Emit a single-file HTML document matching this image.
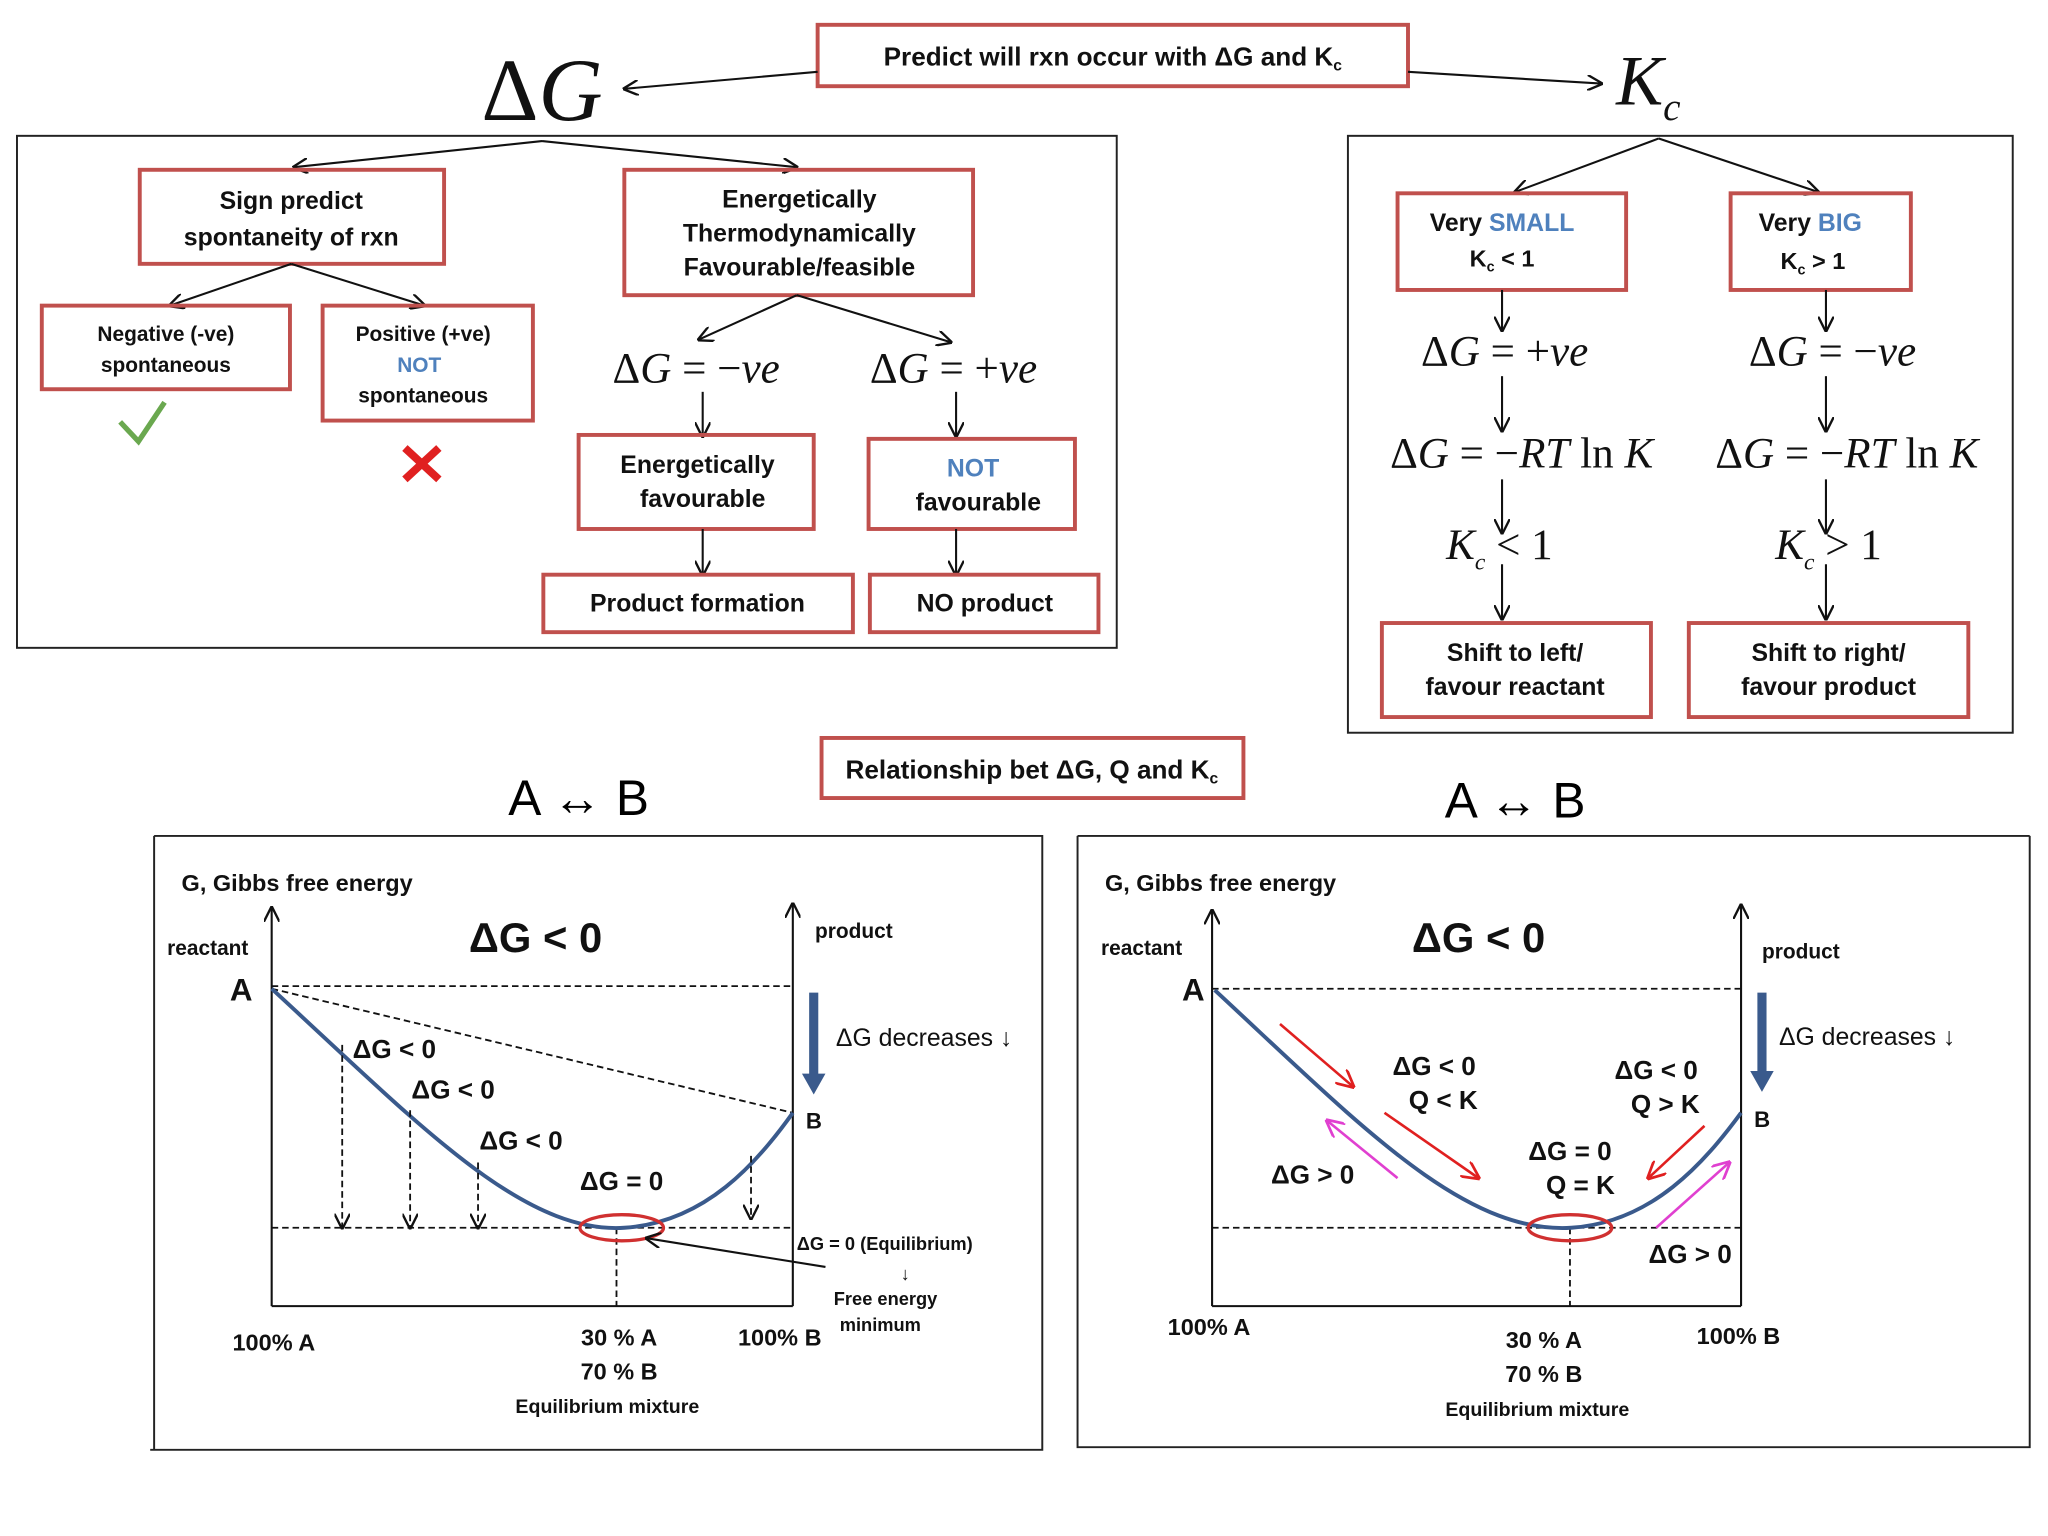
<!DOCTYPE html>
<html><head><meta charset="utf-8"><style>
html,body{margin:0;padding:0;background:#fff;}
svg{display:block}
.b{font-family:"Liberation Sans",sans-serif;font-weight:bold;fill:#111}
.s{font-family:"Liberation Serif",serif;fill:#111}
.rb{fill:none;stroke:#c0504d;stroke-width:3}
.ln{stroke:#111;stroke-width:1.6;fill:none}
.ds{stroke:#111;stroke-width:1.4;fill:none;stroke-dasharray:5,3}
</style></head><body>
<svg width="2048" height="1536" viewBox="0 0 1568 1176" xmlns="http://www.w3.org/2000/svg">
<defs>
<marker id="a" viewBox="0 0 10 10" refX="9" refY="5" markerWidth="12" markerHeight="12" orient="auto" markerUnits="userSpaceOnUse"><path d="M0,0 L10,5 L0,10" fill="none" stroke="#111" stroke-width="1.5"/></marker>
<marker id="ar" viewBox="0 0 10 10" refX="9" refY="5" markerWidth="14" markerHeight="14" orient="auto" markerUnits="userSpaceOnUse"><path d="M0,0 L10,5 L0,10" fill="none" stroke="#e02020" stroke-width="1.5"/></marker>
<marker id="ap" viewBox="0 0 10 10" refX="9" refY="5" markerWidth="14" markerHeight="14" orient="auto" markerUnits="userSpaceOnUse"><path d="M0,0 L10,5 L0,10" fill="none" stroke="#e040d0" stroke-width="1.5"/></marker>
</defs>
<rect width="1568" height="1176" fill="#fff"/>
<rect class="rb" x="626" y="19" width="452" height="47"/>
<text class="b" x="852" y="50" font-size="20" text-anchor="middle">Predict will rxn occur with ΔG and K<tspan font-size="12" dy="4">c</tspan></text>
<text class="s" x="415" y="92" font-size="68" text-anchor="middle">Δ<tspan font-style="italic">G</tspan></text>
<line class="ln" x1="626" y1="55" x2="478" y2="68" marker-end="url(#a)"/>
<text class="s" x="1262" y="80" font-size="54" font-style="italic" text-anchor="middle">K<tspan font-size="30" dy="12">c</tspan></text>
<line class="ln" x1="1078" y1="55" x2="1226" y2="64" marker-end="url(#a)"/>
<rect x="13" y="104" width="842" height="392" fill="none" stroke="#222" stroke-width="1.5"/>
<line class="ln" x1="415" y1="108" x2="225" y2="128" marker-end="url(#a)"/>
<line class="ln" x1="415" y1="108" x2="610" y2="128" marker-end="url(#a)"/>
<rect class="rb" x="107" y="130" width="233" height="72"/>
<text class="b" x="223" y="160" font-size="19" text-anchor="middle">Sign predict</text>
<text class="b" x="223" y="188" font-size="19" text-anchor="middle">spontaneity of rxn</text>
<line class="ln" x1="223" y1="202" x2="130" y2="234" marker-end="url(#a)"/>
<line class="ln" x1="223" y1="202" x2="325" y2="234" marker-end="url(#a)"/>
<rect class="rb" x="32" y="234" width="190" height="64"/>
<text class="b" x="127" y="261" font-size="16" text-anchor="middle">Negative (-ve)</text>
<text class="b" x="127" y="285" font-size="16" text-anchor="middle">spontaneous</text>
<rect class="rb" x="247" y="234" width="161" height="88"/>
<text class="b" x="324" y="261" font-size="16" text-anchor="middle">Positive (+ve)</text>
<text class="b" x="321" y="285" font-size="16" text-anchor="middle" style="fill:#4f81bd">NOT</text>
<text class="b" x="324" y="308" font-size="16" text-anchor="middle">spontaneous</text>
<path d="M92,323 L106,338 L126,308" fill="none" stroke="#6aa84f" stroke-width="4"/>
<path d="M310,343 L336,367 M336,343 L310,367" stroke="#e02020" stroke-width="6"/>
<rect class="rb" x="478" y="130" width="267" height="96"/>
<text class="b" x="612" y="159" font-size="19" text-anchor="middle">Energetically</text>
<text class="b" x="612" y="185" font-size="19" text-anchor="middle">Thermodynamically</text>
<text class="b" x="612" y="211" font-size="19" text-anchor="middle">Favourable/feasible</text>
<line class="ln" x1="610" y1="226" x2="535" y2="260" marker-end="url(#a)"/>
<line class="ln" x1="610" y1="226" x2="728" y2="262" marker-end="url(#a)"/>
<text class="s" x="533" y="293" font-size="33" text-anchor="middle">Δ<tspan font-style="italic">G</tspan> = −<tspan font-style="italic">ve</tspan></text>
<text class="s" x="730" y="293" font-size="33" text-anchor="middle">Δ<tspan font-style="italic">G</tspan> = +<tspan font-style="italic">ve</tspan></text>
<line class="ln" x1="538" y1="300" x2="538" y2="334" marker-end="url(#a)"/>
<line class="ln" x1="732" y1="300" x2="732" y2="334" marker-end="url(#a)"/>
<rect class="rb" x="443" y="333" width="180" height="72"/>
<text class="b" x="534" y="362" font-size="19" text-anchor="middle">Energetically</text>
<text class="b" x="538" y="388" font-size="19" text-anchor="middle">favourable</text>
<rect class="rb" x="665" y="336" width="158" height="69"/>
<text class="b" x="745" y="365" font-size="19" text-anchor="middle" style="fill:#4f81bd">NOT</text>
<text class="b" x="749" y="391" font-size="19" text-anchor="middle">favourable</text>
<line class="ln" x1="538" y1="405" x2="538" y2="440" marker-end="url(#a)"/>
<line class="ln" x1="732" y1="405" x2="732" y2="440" marker-end="url(#a)"/>
<rect class="rb" x="416" y="440" width="237" height="44"/>
<text class="b" x="534" y="468" font-size="19" text-anchor="middle">Product formation</text>
<rect class="rb" x="666" y="440" width="175" height="44"/>
<text class="b" x="754" y="468" font-size="19" text-anchor="middle">NO product</text>
<rect x="1032" y="104" width="509" height="457" fill="none" stroke="#222" stroke-width="1.5"/>
<line class="ln" x1="1270" y1="106" x2="1160" y2="147" marker-end="url(#a)"/>
<line class="ln" x1="1270" y1="106" x2="1392" y2="147" marker-end="url(#a)"/>
<rect class="rb" x="1070" y="148" width="175" height="74"/>
<text class="b" x="1150" y="177" font-size="19" text-anchor="middle">Very <tspan style="fill:#4f81bd">SMALL</tspan></text>
<text class="b" x="1150" y="204" font-size="18" text-anchor="middle">K<tspan font-size="11" dy="4">c</tspan><tspan dy="-4"> &lt; 1</tspan></text>
<rect class="rb" x="1325" y="148" width="138" height="74"/>
<text class="b" x="1386" y="177" font-size="19" text-anchor="middle">Very <tspan style="fill:#4f81bd">BIG</tspan></text>
<text class="b" x="1388" y="206" font-size="18" text-anchor="middle">K<tspan font-size="11" dy="4">c</tspan><tspan dy="-4">  &gt; 1</tspan></text>
<g>
<line class="ln" x1="1150" y1="222" x2="1150" y2="253" marker-end="url(#a)"/>
<text class="s" x="1152" y="280" font-size="33" text-anchor="middle">Δ<tspan font-style="italic">G</tspan> = +<tspan font-style="italic">ve</tspan></text>
<line class="ln" x1="1150" y1="288" x2="1150" y2="330" marker-end="url(#a)"/>
<text class="s" x="1165" y="358" font-size="33" text-anchor="middle">Δ<tspan font-style="italic">G</tspan> = −<tspan font-style="italic">RT</tspan> ln <tspan font-style="italic">K</tspan></text>
<line class="ln" x1="1150" y1="367" x2="1150" y2="408" marker-end="url(#a)"/>
<text class="s" x="1148" y="428" font-size="33" text-anchor="middle"><tspan font-style="italic">K</tspan><tspan font-size="18" font-style="italic" dy="8">c</tspan><tspan dy="-8"> &lt; 1</tspan></text>
<line class="ln" x1="1150" y1="432" x2="1150" y2="474" marker-end="url(#a)"/>
</g>
<g>
<line class="ln" x1="1398" y1="222" x2="1398" y2="253" marker-end="url(#a)"/>
<text class="s" x="1403" y="280" font-size="33" text-anchor="middle">Δ<tspan font-style="italic">G</tspan> = −<tspan font-style="italic">ve</tspan></text>
<line class="ln" x1="1398" y1="288" x2="1398" y2="330" marker-end="url(#a)"/>
<text class="s" x="1414" y="358" font-size="33" text-anchor="middle">Δ<tspan font-style="italic">G</tspan> = −<tspan font-style="italic">RT</tspan> ln <tspan font-style="italic">K</tspan></text>
<line class="ln" x1="1398" y1="367" x2="1398" y2="408" marker-end="url(#a)"/>
<text class="s" x="1400" y="428" font-size="33" text-anchor="middle"><tspan font-style="italic">K</tspan><tspan font-size="18" font-style="italic" dy="8">c</tspan><tspan dy="-8"> &gt; 1</tspan></text>
<line class="ln" x1="1398" y1="432" x2="1398" y2="474" marker-end="url(#a)"/>
</g>
<rect class="rb" x="1058" y="477" width="206" height="72"/>
<text class="b" x="1160" y="506" font-size="19" text-anchor="middle">Shift to left/</text>
<text class="b" x="1160" y="532" font-size="19" text-anchor="middle">favour reactant</text>
<rect class="rb" x="1293" y="477" width="214" height="72"/>
<text class="b" x="1400" y="506" font-size="19" text-anchor="middle">Shift to right/</text>
<text class="b" x="1400" y="532" font-size="19" text-anchor="middle">favour product</text>
<rect class="rb" x="629" y="565" width="323" height="46"/>
<text class="b" x="790" y="596" font-size="20" text-anchor="middle">Relationship bet ΔG, Q and K<tspan font-size="12" dy="4">c</tspan></text>
<text x="443" y="624" font-size="38" text-anchor="middle" font-family="Liberation Sans,sans-serif">A ↔ B</text>
<text x="1160" y="626" font-size="38" text-anchor="middle" font-family="Liberation Sans,sans-serif">A ↔ B</text>
<path d="M118,640 L798,640 L798,1110 L115,1110 M118,640 L118,1110" fill="none" stroke="#222" stroke-width="1.5"/>
<text class="b" x="139" y="682" font-size="18">G, Gibbs free energy</text>
<text class="b" x="128" y="731" font-size="16">reactant</text>
<text class="b" x="176" y="766" font-size="24">A</text>
<line class="ln" x1="208" y1="1000" x2="208" y2="695" marker-end="url(#a)"/>
<line class="ln" x1="607" y1="1000" x2="607" y2="692" marker-end="url(#a)"/>
<line class="ln" x1="208" y1="1000" x2="607" y2="1000"/>
<text class="b" x="624" y="718" font-size="16">product</text>
<text class="b" x="410" y="729" font-size="32" text-anchor="middle">ΔG &lt; 0</text>
<line class="ds" x1="208" y1="755" x2="607" y2="755"/>
<line class="ds" x1="208" y1="940" x2="607" y2="940"/>
<line class="ds" x1="208" y1="757" x2="607" y2="852"/>
<line class="ds" x1="472" y1="940" x2="472" y2="1000"/>
<path d="M208,757 C320,860 400,945 478,940 C540,936 580,890 607,852" fill="none" stroke="#3a5a8c" stroke-width="3"/>
<g class="ds">
<line x1="262" y1="800" x2="262" y2="940" marker-end="url(#a)"/>
<line x1="314" y1="850" x2="314" y2="940" marker-end="url(#a)"/>
<line x1="366" y1="890" x2="366" y2="940" marker-end="url(#a)"/>
<line x1="575" y1="885" x2="575" y2="933" marker-end="url(#a)"/>
</g>
<text class="b" x="270" y="810" font-size="20">ΔG &lt; 0</text>
<text class="b" x="315" y="841" font-size="20">ΔG &lt; 0</text>
<text class="b" x="367" y="880" font-size="20">ΔG &lt; 0</text>
<text class="b" x="444" y="911" font-size="20">ΔG = 0</text>
<ellipse cx="476" cy="940" rx="32" ry="10" fill="none" stroke="#d03030" stroke-width="2.5"/>
<line class="ln" x1="632" y1="970" x2="495" y2="948" marker-end="url(#a)"/>
<path d="M623,760 L623,825" stroke="#3a5a8c" stroke-width="7"/>
<path d="M614,822 L632,822 L623,838 Z" fill="#3a5a8c"/>
<text class="b" x="640" y="801" font-size="19" style="font-weight:normal">ΔG decreases ↓</text>
<text class="b" x="617" y="864" font-size="17">B</text>
<text class="b" x="610" y="957" font-size="14">ΔG = 0 (Equilibrium)</text>
<text class="b" x="693" y="980" font-size="14" text-anchor="middle">↓</text>
<text class="b" x="678" y="999" font-size="14" text-anchor="middle">Free energy</text>
<text class="b" x="674" y="1019" font-size="14" text-anchor="middle">minimum</text>
<text class="b" x="178" y="1034" font-size="18">100% A</text>
<text class="b" x="565" y="1030" font-size="18">100% B</text>
<text class="b" x="474" y="1030" font-size="18" text-anchor="middle">30 % A</text>
<text class="b" x="474" y="1056" font-size="18" text-anchor="middle">70 % B</text>
<text class="b" x="465" y="1082" font-size="15" text-anchor="middle">Equilibrium mixture</text>
<path d="M825,640 L1554,640 M1554,640 L1554,1108 L825,1108 L825,640" fill="none" stroke="#222" stroke-width="1.5"/>
<text class="b" x="846" y="682" font-size="18">G, Gibbs free energy</text>
<text class="b" x="843" y="731" font-size="16">reactant</text>
<text class="b" x="905" y="766" font-size="24">A</text>
<line class="ln" x1="928" y1="1000" x2="928" y2="697" marker-end="url(#a)"/>
<line class="ln" x1="1333" y1="1000" x2="1333" y2="693" marker-end="url(#a)"/>
<line class="ln" x1="928" y1="1000" x2="1333" y2="1000"/>
<text class="b" x="1349" y="734" font-size="16">product</text>
<text class="b" x="1132" y="729" font-size="32" text-anchor="middle">ΔG &lt; 0</text>
<line class="ds" x1="928" y1="757" x2="1333" y2="757"/>
<line class="ds" x1="928" y1="940" x2="1333" y2="940"/>
<line class="ds" x1="1202" y1="940" x2="1202" y2="1000"/>
<path d="M930,758 C1040,860 1120,945 1203,940 C1265,936 1305,890 1333,852" fill="none" stroke="#3a5a8c" stroke-width="3"/>
<ellipse cx="1202" cy="940" rx="32" ry="10" fill="none" stroke="#d03030" stroke-width="2.5"/>
<line x1="980" y1="784" x2="1036" y2="832" stroke="#e02020" stroke-width="2" marker-end="url(#ar)"/>
<line x1="1060" y1="852" x2="1132" y2="902" stroke="#e02020" stroke-width="2" marker-end="url(#ar)"/>
<line x1="1305" y1="862" x2="1262" y2="902" stroke="#e02020" stroke-width="2" marker-end="url(#ar)"/>
<line x1="1070" y1="902" x2="1016" y2="858" stroke="#e040d0" stroke-width="2" marker-end="url(#ap)"/>
<line x1="1268" y1="940" x2="1324" y2="890" stroke="#e040d0" stroke-width="2" marker-end="url(#ap)"/>
<text class="b" x="1098" y="823" font-size="20" text-anchor="middle">ΔG &lt; 0</text>
<text class="b" x="1105" y="849" font-size="20" text-anchor="middle">Q &lt; K</text>
<text class="b" x="1268" y="826" font-size="20" text-anchor="middle">ΔG &lt; 0</text>
<text class="b" x="1275" y="852" font-size="20" text-anchor="middle">Q &gt; K</text>
<text class="b" x="1202" y="888" font-size="20" text-anchor="middle">ΔG = 0</text>
<text class="b" x="1210" y="914" font-size="20" text-anchor="middle">Q = K</text>
<text class="b" x="1005" y="906" font-size="20" text-anchor="middle">ΔG &gt; 0</text>
<text class="b" x="1294" y="967" font-size="20" text-anchor="middle">ΔG &gt; 0</text>
<path d="M1349,760 L1349,823" stroke="#3a5a8c" stroke-width="7"/>
<path d="M1340,820 L1358,820 L1349,836 Z" fill="#3a5a8c"/>
<text class="b" x="1362" y="800" font-size="19" style="font-weight:normal">ΔG decreases ↓</text>
<text class="b" x="1343" y="863" font-size="17">B</text>
<text class="b" x="894" y="1022" font-size="18">100% A</text>
<text class="b" x="1299" y="1029" font-size="18">100% B</text>
<text class="b" x="1182" y="1032" font-size="18" text-anchor="middle">30 % A</text>
<text class="b" x="1182" y="1058" font-size="18" text-anchor="middle">70 % B</text>
<text class="b" x="1177" y="1084" font-size="15" text-anchor="middle">Equilibrium mixture</text>
</svg>
</body></html>
